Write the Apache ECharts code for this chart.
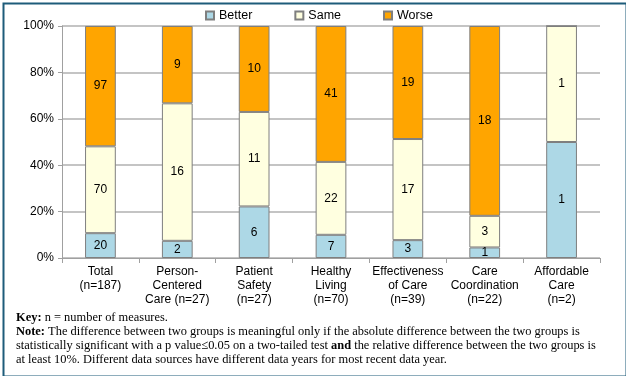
<!DOCTYPE html>
<html>
<head>
<meta charset="utf-8">
<script src="https://cdn.jsdelivr.net/npm/echarts@6/dist/echarts.min.js"></script>
<style>
html,body{margin:0;padding:0;background:#fff;}
#c{width:626px;height:376px;}
</style>
</head>
<body>
<div id="c"></div>
<script>
const categories = ['Total\n(n=187)', 'Person-\nCentered\nCare (n=27)', 'Patient\nSafety\n(n=27)', 'Healthy\nLiving\n(n=70)', 'Effectiveness\nof Care\n(n=39)', 'Care\nCoordination\n(n=22)', 'Affordable\nCare\n(n=2)'];
const better = [20, 2, 6, 7, 3, 1, 1];
const same = [70, 16, 11, 22, 17, 3, 1];
const worse = [97, 9, 10, 41, 19, 18, 0];
const yTicks = ['0%', '20%', '40%', '60%', '80%', '100%'];

const totals = better.map((b, i) => b + same[i] + worse[i]);
function share(arr) {
  return arr.map((v, i) => ({ value: v / totals[i] * 100, count: v }));
}

const chart = echarts.init(document.getElementById('c'), null, { renderer: 'canvas' });
const labelCfg = {
  show: true,
  position: 'inside',
  color: '#000',
  fontFamily: 'Liberation Sans, Arial, sans-serif',
  fontSize: 12,
  formatter: p => (p.data.count > 0 ? String(p.data.count) : '')
};
const barStyle = c => ({ color: c, borderColor: '#7f7f7f', borderWidth: 1 });
const fs = 13;
const tok = { fontSize: fs, fontFamily: 'Liberation Serif', fill: '#000', lineHeight: 14, verticalAlign: 'middle' };
const noteStyle = t => ({
  text: t,
  fontSize: fs,
  fontFamily: 'Liberation Serif',
  lineHeight: 14,
  fill: '#000',
  rich: { n: Object.assign({}, tok), b: Object.assign({ fontWeight: 'bold' }, tok) }
});

chart.setOption({
  animation: false,
  textStyle: { fontFamily: 'Liberation Sans, Arial, sans-serif' },
  legend: {
    top: 4,
    left: 200,
    itemWidth: 8,
    itemHeight: 8,
    itemGap: 42,
    icon: 'rect',
    textStyle: { fontSize: 12.5, color: '#000' },
    data: ['Better', 'Same', 'Worse']
  },
  grid: { left: 62, right: 26, top: 26, bottom: 118, containLabel: false },
  xAxis: {
    type: 'category',
    data: categories,
    axisLine: { lineStyle: { color: '#a0a0a0', width: 1 } },
    axisTick: { show: true, length: 5, lineStyle: { color: '#a0a0a0' } },
    axisLabel: { color: '#000', fontSize: 12, lineHeight: 14, margin: 7, interval: 0 }
  },
  yAxis: {
    type: 'value',
    min: 0,
    max: 100,
    interval: 20,
    axisLine: { show: true, lineStyle: { color: '#a0a0a0', width: 1 } },
    axisTick: { show: true, length: 4, lineStyle: { color: '#a0a0a0' } },
    splitLine: { lineStyle: { color: '#b0b0b0', width: 1.5 } },
    axisLabel: { color: '#000', fontSize: 12, margin: 8, formatter: v => yTicks[v / 20] }
  },
  series: [
    { name: 'Better', type: 'bar', stack: 's', barWidth: '40%', data: share(better), itemStyle: barStyle('#add8e6'), label: labelCfg },
    { name: 'Same', type: 'bar', stack: 's', barWidth: '40%', data: share(same), itemStyle: barStyle('#ffffe0'), label: labelCfg },
    { name: 'Worse', type: 'bar', stack: 's', barWidth: '40%', data: share(worse), itemStyle: barStyle('#ffa500'), label: labelCfg }
  ],
  graphic: [
    { type: 'rect', left: 1, top: 1, shape: { width: 623, height: 373 }, style: { fill: 'none', stroke: '#1e5c7a', lineWidth: 2 }, silent: true },
    {
      type: 'group', x: 16, y: 311, scaleX: 0.956,
      children: [
        { type: 'text', x: 0, y: 0, style: noteStyle('{b|Key:}{n| n = number of measures.}') },
        { type: 'text', x: 0, y: 13.8, style: noteStyle('{b|Note:}{n| The difference between two groups is meaningful only if the absolute difference between the two groups is}') },
        { type: 'text', x: 0, y: 27.6, style: noteStyle('{n|statistically significant with a p value\u22640.05 on a two-tailed test }{b|and}{n| the relative difference between the two groups is}') },
        { type: 'text', x: 0, y: 41.4, style: noteStyle('{n|at least 10%. Different data sources have different data years for most recent data year.}') }
      ]
    }
  ]
});
</script>
</body>
</html>
